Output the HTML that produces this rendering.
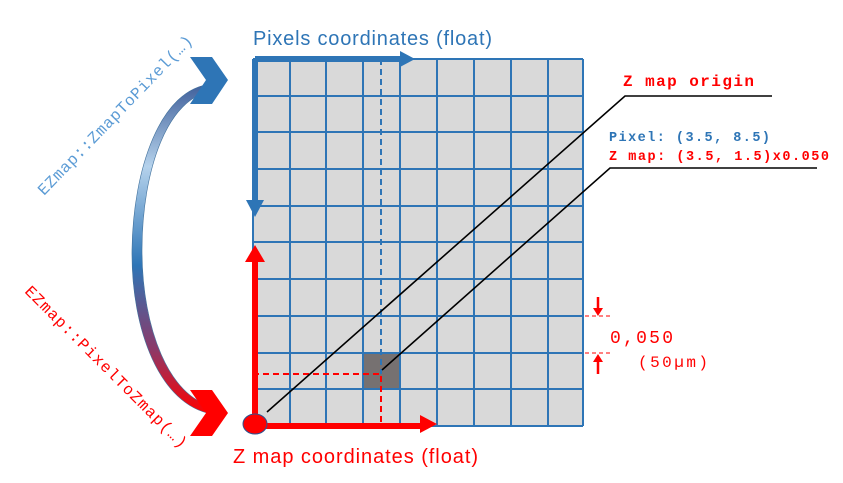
<!DOCTYPE html>
<html><head><meta charset="utf-8"><style>
html,body{margin:0;padding:0;background:#fff;width:843px;height:483px;overflow:hidden}
svg{display:block}
</style></head><body>
<svg width="843" height="483" viewBox="0 0 843 483" xmlns="http://www.w3.org/2000/svg">
<defs>
<linearGradient id="g" x1="0" y1="0" x2="0" y2="1">
<stop offset="0" stop-color="#3f5f9a"/>
<stop offset="0.25" stop-color="#b5d2ec"/>
<stop offset="0.55" stop-color="#2e75b6"/>
<stop offset="0.8" stop-color="#8a3a6a"/>
<stop offset="1" stop-color="#ff0000"/>
</linearGradient>
</defs>
<rect x="253" y="59" width="330" height="367" fill="#d9d9d9"/>
<rect x="363" y="353" width="37" height="36" fill="#767171"/>
<g stroke="#2e75b6" stroke-width="2" fill="none">
<path d="M253 59V426M290 59V426M326 59V426M363 59V426M400 59V426M437 59V426M474 59V426M511 59V426M548 59V426M583 59V426"/>
<path d="M253 59H583M253 96H583M253 132H583M253 169H583M253 206H583M253 242H583M253 279H583M253 316H583M253 353H583M253 389H583M253 426H583"/>
</g>
<path d="M381 59V374" stroke="#2e75b6" stroke-width="2" stroke-dasharray="6,4"/>
<path d="M253 374H381V426" stroke="#ff0000" stroke-width="2" stroke-dasharray="6,4" fill="none"/>
<path d="M255 59H402M255 59V203" stroke="#2e75b6" stroke-width="6" fill="none"/>
<polygon points="400,51 415,59 400,67" fill="#2e75b6"/>
<polygon points="246,200 264,200 255,217" fill="#2e75b6"/>
<path d="M255 426V258M255 426H420" stroke="#ff0000" stroke-width="6" fill="none"/>
<polygon points="245,262 265,262 255,245" fill="#ff0000"/>
<polygon points="420,415 437,424 420,433" fill="#ff0000"/>
<ellipse cx="255" cy="424" rx="12" ry="10" fill="#ff0000" stroke="#2f528f" stroke-width="1"/>
<path d="M267 412L625 96H772" stroke="#000" stroke-width="1.6" fill="none"/>
<path d="M382 370L610 168H817" stroke="#000" stroke-width="1.6" fill="none"/>
<text x="623" y="86" font-family="Liberation Mono, monospace" font-weight="bold" font-size="16" fill="#ff0000" textLength="131">Z map origin</text>
<text x="609" y="141" font-family="Liberation Mono, monospace" font-weight="bold" font-size="13.5" fill="#2e75b6" textLength="161">Pixel: (3.5, 8.5)</text>
<text x="609" y="160" font-family="Liberation Mono, monospace" font-weight="bold" font-size="13.5" fill="#ff0000" textLength="220">Z map: (3.5, 1.5)x0.050</text>
<path d="M585 316H612M585 353H612" stroke="#ff0000" stroke-width="1" stroke-dasharray="4,3"/>
<path d="M598 297V310M598 374V361" stroke="#ff0000" stroke-width="2.5"/>
<polygon points="593,308 603,308 598,316" fill="#ff0000"/>
<polygon points="593,362 603,362 598,354" fill="#ff0000"/>
<text x="610" y="343" font-family="Liberation Mono, monospace" font-size="18" fill="#ff0000" textLength="63">0,050</text>
<text x="638" y="367" font-family="Liberation Mono, monospace" font-size="16" fill="#ff0000" textLength="70">(50µm)</text>
<text x="253" y="45" font-family="Liberation Sans, sans-serif" font-size="20" fill="#2e75b6" textLength="239">Pixels coordinates (float)</text>
<text x="233" y="463" font-family="Liberation Sans, sans-serif" font-size="20" fill="#ff0000" textLength="245">Z map coordinates (float)</text>
<path d="M212 84C160 88 133 170 132 250C131 330 160 405 212 414L212 406C170 397 142 330 142 250C142 170 168 96 212 92Z" fill="url(#g)" stroke="#41719c" stroke-width="0.6"/>
<polygon points="190,57 212,57 228,80 212,104 190,104 206,80" fill="#2e75b6"/>
<polygon points="190,390 212,390 228,413 212,436 190,436 206,413" fill="#ff0000"/>
<text transform="translate(44,196) rotate(-46)" font-family="Liberation Mono, monospace" font-size="16" fill="#5b9bd5" textLength="215">EZmap::ZmapToPixel(…)</text>
<text transform="translate(24,292) rotate(45)" font-family="Liberation Mono, monospace" font-size="16" fill="#ff0000" textLength="222">EZmap::PixelToZmap(…)</text>
</svg>
</body></html>
